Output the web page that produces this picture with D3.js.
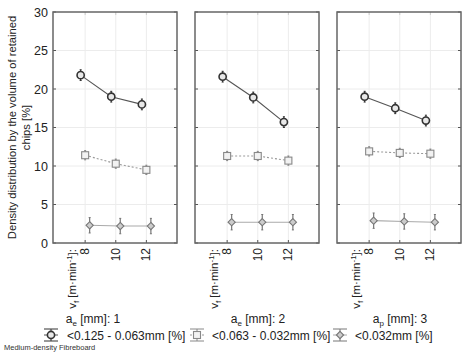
<!DOCTYPE html>
<html><head><meta charset="utf-8">
<script src="https://cdn.jsdelivr.net/npm/d3@7"></script>
<style>body{margin:0;background:#fff}svg{display:block;font-family:"Liberation Sans",Arial,sans-serif}</style>
</head><body><svg id="c" width="474" height="358"></svg>
<script>
const speeds = [8, 10, 12];
const panelTitles = [["a","e"," [mm]: 1"],["a","e"," [mm]: 2"],["a","p"," [mm]: 3"]];
const seriesNames = ["<0.125 - 0.063mm [%]", "<0.063 - 0.032mm [%]", "<0.032mm [%]"];
// values per panel, per speed
const coarse = [[21.8, 19.0, 18.0], [21.6, 18.9, 15.7], [19.0, 17.5, 15.9]];
const medium = [[11.4, 10.3, 9.5], [11.3, 11.3, 10.7], [11.9, 11.7, 11.6]];
const fine = [[2.3, 2.2, 2.2], [2.7, 2.7, 2.7], [2.9, 2.8, 2.7]];
const coarseErr = [[0.7, 0.7, 0.7], [0.7, 0.7, 0.7], [0.7, 0.7, 0.7]];
const mediumErr = [[0.6, 0.6, 0.6], [0.6, 0.6, 0.6], [0.6, 0.6, 0.6]];
const fineErr = [[1.0, 1.0, 1.0], [1.0, 1.0, 1.0], [1.0, 1.0, 1.0]];
const yTicks = [0, 5, 10, 15, 20, 25, 30];

const svg = d3.select("#c");
const pTop = 12, pBottom = 243;
const panelX = [53, 195, 337], pw = 124;
const y = d3.scaleLinear().domain([0, 30]).range([pBottom, pTop]);

const series = [
  {vals: coarse, err: coarseErr, off: -4.5, stroke: "#333", line: "#555", dash: null, shape: "circle"},
  {vals: medium, err: mediumErr, off: 0, stroke: "#888", line: "#999", dash: "2,2", shape: "square"},
  {vals: fine, err: fineErr, off: 4.5, stroke: "#777", line: "#aaa", dash: null, shape: "diamond"}
];

function drawMarker(g, shape, cx, cy, stroke) {
  if (shape === "circle") {
    g.append("circle").attr("cx", cx).attr("cy", cy).attr("r", 3.6)
      .attr("fill", "#e8e8e8").attr("stroke", stroke).attr("stroke-width", 1.6);
  } else if (shape === "square") {
    g.append("rect").attr("x", cx - 3.5).attr("y", cy - 3.5).attr("width", 7).attr("height", 7)
      .attr("fill", "#f2f2f2").attr("stroke", stroke).attr("stroke-width", 1.1);
  } else {
    g.append("path").attr("d", `M${cx},${cy-3.6}L${cx+3.6},${cy}L${cx},${cy+3.6}L${cx-3.6},${cy}Z`)
      .attr("fill", "#ccc").attr("stroke", stroke).attr("stroke-width", 1.1);
  }
}

panelX.forEach((px, pi) => {
  const x = d3.scaleLinear().domain([5.9, 14]).range([px, px + pw]);
  const g = svg.append("g");
  yTicks.slice(1, -1).forEach(t => g.append("line").attr("x1", px).attr("x2", px + pw)
    .attr("y1", y(t)).attr("y2", y(t)).attr("stroke", "#ececec").attr("stroke-width", 1));
  speeds.forEach(s => g.append("line").attr("x1", x(s)).attr("x2", x(s))
    .attr("y1", pTop).attr("y2", pBottom).attr("stroke", "#ececec").attr("stroke-width", 1));
  yTicks.forEach(t => {
    g.append("line").attr("x1", px).attr("x2", px + 3).attr("y1", y(t)).attr("y2", y(t)).attr("stroke", "#555");
    g.append("line").attr("x1", px + pw - 3).attr("x2", px + pw).attr("y1", y(t)).attr("y2", y(t)).attr("stroke", "#555");
  });
  speeds.forEach(s => {
    g.append("line").attr("x1", x(s)).attr("x2", x(s)).attr("y1", pBottom).attr("y2", pBottom - 3).attr("stroke", "#555");
    g.append("line").attr("x1", x(s)).attr("x2", x(s)).attr("y1", pTop).attr("y2", pTop + 3).attr("stroke", "#ccc");
  });
  g.append("rect").attr("x", px).attr("y", pTop).attr("width", pw).attr("height", pBottom - pTop)
    .attr("fill", "none").attr("stroke", "#666").attr("stroke-width", 1.5);
  series.forEach(se => {
    const pts = speeds.map((s, i) => [x(s) + se.off, y(se.vals[pi][i]), se.err[pi][i], se.vals[pi][i]]);
    g.append("path").attr("d", d3.line()(pts.map(p => [p[0], p[1]])))
      .attr("fill", "none").attr("stroke", se.line).attr("stroke-width", 1.1)
      .attr("stroke-dasharray", se.dash);
    pts.forEach(p => {
      const y1 = y(p[3] + p[2]), y2 = y(p[3] - p[2]);
      g.append("line").attr("x1", p[0]).attr("x2", p[0]).attr("y1", y1).attr("y2", y2)
        .attr("stroke", se.stroke).attr("stroke-width", 1.2);
      [y1, y2].forEach(yy => g.append("line").attr("x1", p[0] - 1).attr("x2", p[0] + 1)
        .attr("y1", yy).attr("y2", yy).attr("stroke", se.stroke));
      drawMarker(g, se.shape, p[0], p[1], se.stroke);
    });
  });
  speeds.forEach(s => {
    g.append("text").attr("transform", `translate(${x(s) + 4},${pBottom + 5}) rotate(-90)`)
      .attr("text-anchor", "end").attr("font-size", 12).attr("fill", "#222").text(s);
  });
  const vt = g.append("text").attr("transform", `translate(${x(8) - 9},${pBottom + 6}) rotate(-90)`)
    .attr("text-anchor", "end").attr("font-size", 11.5).attr("fill", "#222");
  vt.append("tspan").text("v");
  vt.append("tspan").attr("font-size", 8).attr("dy", 3).text("f");
  vt.append("tspan").attr("dy", -3).text(" [m·min");
  vt.append("tspan").attr("font-size", 8).attr("dy", -4).text("-1");
  vt.append("tspan").attr("dy", 4).text("]:");
  const tc = [93, 258, 400][pi];
  const tt = g.append("text").attr("x", tc).attr("y", 323).attr("text-anchor", "middle")
    .attr("font-size", 12).attr("fill", "#222");
  tt.append("tspan").text(panelTitles[pi][0]);
  tt.append("tspan").attr("font-size", 8).attr("dy", 3).text(panelTitles[pi][1]);
  tt.append("tspan").attr("dy", -3).text(panelTitles[pi][2]);
});

yTicks.forEach(t => svg.append("text").attr("x", 48).attr("y", y(t) + 4.5).attr("text-anchor", "end")
  .attr("font-size", 12.5).attr("fill", "#222").text(t));
const yl = svg.append("text").attr("transform", `translate(16,${(pTop + pBottom) / 2}) rotate(-90)`)
  .attr("text-anchor", "middle").attr("font-size", 11.2).attr("fill", "#222");
yl.append("tspan").attr("x", 0).attr("y", 0).text("Density distribution by the volume of retained");
yl.append("tspan").attr("x", 0).attr("y", 13.5).text("chips [%]");

const legX = [51, 197, 340], legTX = [67, 212, 355];
series.forEach((se, i) => {
  const cx = legX[i], cy = 335;
  const g = svg.append("g");
  g.append("line").attr("x1", cx - 7).attr("x2", cx + 7).attr("y1", cy).attr("y2", cy)
    .attr("stroke", se.line).attr("stroke-dasharray", se.dash);
  g.append("line").attr("x1", cx).attr("x2", cx).attr("y1", cy - 6).attr("y2", cy + 6).attr("stroke", se.stroke);
  [cy - 6, cy + 6].forEach(yy => g.append("line").attr("x1", cx - 7).attr("x2", cx + 7)
    .attr("y1", yy).attr("y2", yy).attr("stroke", se.stroke));
  drawMarker(g, se.shape, cx, cy, se.stroke);
  svg.append("text").attr("x", legTX[i]).attr("y", 339.5).attr("font-size", 12).attr("fill", "#222").text(seriesNames[i]);
});
svg.append("text").attr("x", 4).attr("y", 350).attr("font-size", 7.5).attr("fill", "#333").text("Medium-density Fibreboard");
</script></body></html>
